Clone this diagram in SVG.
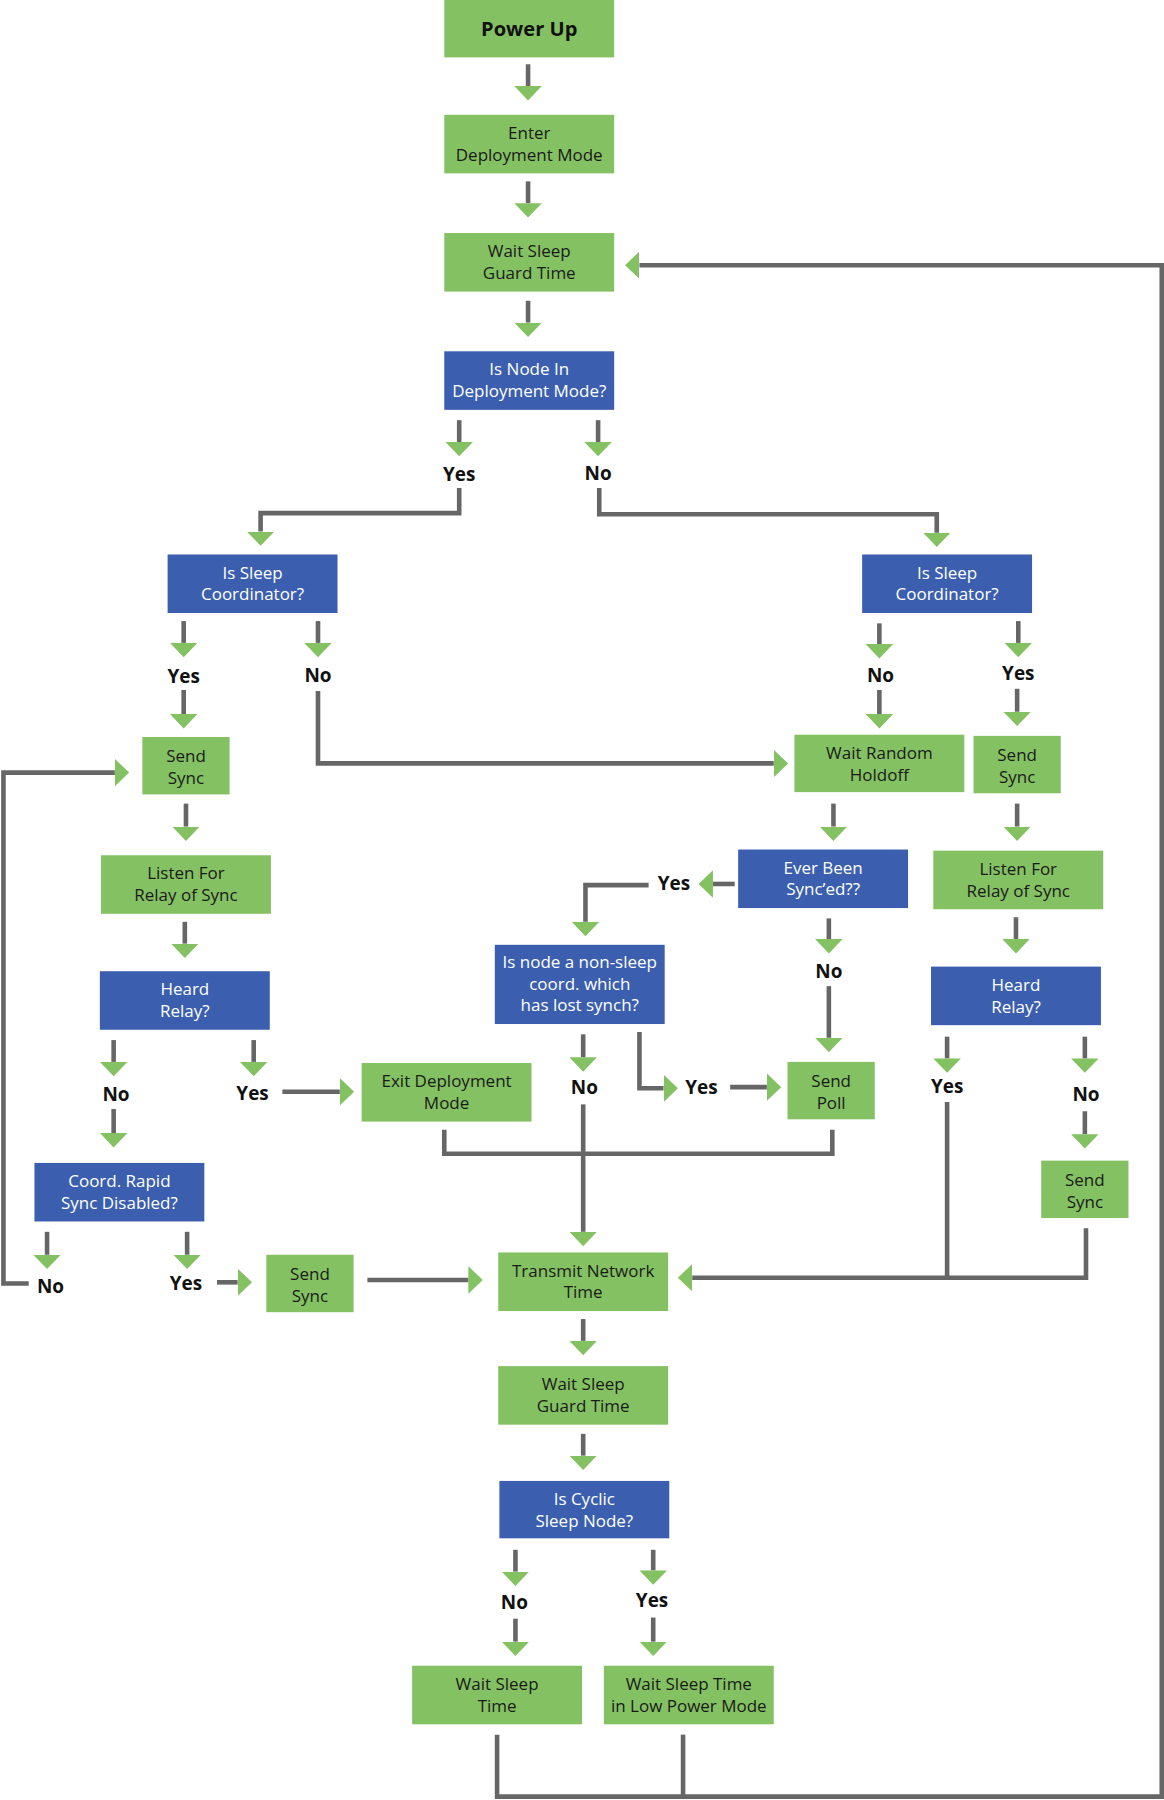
<svg xmlns="http://www.w3.org/2000/svg" width="1164" height="1800" viewBox="0 0 1164 1800">
<style>
.g{fill:#84c162}.b{fill:#3b5fae}
.t{font-family:"Open Sans","Liberation Sans",sans-serif;font-size:14.8px;text-anchor:middle;fill:#1a1a1a}
.w{fill:#ffffff}
.l{font-family:"Open Sans","Liberation Sans",sans-serif;font-size:16.5px;font-weight:bold;text-anchor:middle;fill:#111}
.c{fill:none;stroke:#666;stroke-width:4}
</style>
<defs>
<marker id="a" markerUnits="userSpaceOnUse" markerWidth="14" markerHeight="26" viewBox="0 -13 14 26" refX="0" refY="0" orient="auto">
<path d="M0,-12 L12.5,0 L0,12 z" fill="#84c162"/>
</marker>
</defs>
<rect width="1164" height="1800" fill="#fff"/>
<g transform="scale(1.148)">
<g id="connectors" class="c" marker-end="url(#a)">
<path d="M460,56V75"/><path d="M460,158V177"/><path d="M460,262V281"/>
<path d="M400,366V385"/><path d="M521,366V385"/>
<path d="M400,425V447H227V463"/><path d="M522,425V448H816V464"/>
<path d="M160,541V560"/><path d="M160,601V622"/><path d="M277,541V560"/>
<path d="M277,602V665H674"/>
<path d="M766,543V561"/><path d="M766,601V622"/><path d="M887,541V560"/><path d="M886,600V620"/>
<path d="M162,700V720"/><path d="M161,803V822"/>
<path d="M99,906V925"/><path d="M99,966V987"/><path d="M221,906V925"/><path d="M246,951H296"/>
<path d="M41,1073V1093"/><path d="M25,1118H3V673H100"/>
<path d="M163,1073V1093"/><path d="M189,1117H207"/><path d="M320,1115H408"/>
<path d="M726,700V720"/><path d="M640,770H621"/><path d="M565,771H510V803"/>
<path d="M722,800V818"/><path d="M722,859V904"/>
<path d="M508,901V921"/><path d="M508,962V1073"/>
<path d="M557,899V948H578"/><path d="M636,947H668"/>
<path d="M387,984V1005H725V984" marker-end="none"/>
<path d="M886,700V720"/><path d="M885,799V818"/>
<path d="M825,903V922"/><path d="M825,960V1113" marker-end="none"/>
<path d="M945,903V922"/><path d="M945,968V988"/>
<path d="M946,1070V1113H603"/>
<path d="M508,1149V1168"/><path d="M508,1249V1268"/>
<path d="M449,1350V1369"/><path d="M449,1410V1430"/><path d="M569,1350V1368"/><path d="M569,1409V1430"/>
<path d="M433,1511V1565H1012V231H557"/><path d="M595,1511V1565" marker-end="none"/>
</g>
<g id="labels" class="l">
<text x="400" y="419">Yes</text><text x="521" y="418">No</text>
<text x="160" y="595">Yes</text><text x="277" y="594">No</text>
<text x="767" y="594">No</text><text x="887" y="592">Yes</text>
<text x="101" y="959">No</text><text x="220" y="958">Yes</text>
<text x="44" y="1126">No</text><text x="162" y="1124">Yes</text>
<text x="587" y="775">Yes</text><text x="722" y="852">No</text>
<text x="509" y="953">No</text><text x="611" y="953">Yes</text>
<text x="825" y="952">Yes</text><text x="946" y="959">No</text>
<text x="448" y="1402">No</text><text x="568" y="1400">Yes</text>
</g>
<g id="n1"><rect class="g" x="387" y="0" width="148" height="50"/><text class="l" x="461" y="31" style="font-size:17.5px">Power Up</text></g>
<g id="n2"><rect class="g" x="387" y="100" width="148" height="51"/><text class="t" x="461" y="121">Enter</text><text class="t" x="461" y="140">Deployment Mode</text></g>
<g id="n3"><rect class="g" x="387" y="203" width="148" height="51"/><text class="t" x="461" y="224">Wait Sleep</text><text class="t" x="461" y="243">Guard Time</text></g>
<g id="n4"><rect class="b" x="387" y="306" width="148" height="51"/><text class="t w" x="461" y="327">Is Node In</text><text class="t w" x="461" y="346">Deployment Mode?</text></g>
<g id="n5"><rect class="b" x="146" y="483" width="148" height="51"/><text class="t w" x="220" y="504">Is Sleep</text><text class="t w" x="220" y="523">Coordinator?</text></g>
<g id="n6"><rect class="b" x="751" y="483" width="148" height="51"/><text class="t w" x="825" y="504">Is Sleep</text><text class="t w" x="825" y="523">Coordinator?</text></g>
<g id="n7"><rect class="g" x="124" y="642" width="76" height="50"/><text class="t" x="162" y="664">Send</text><text class="t" x="162" y="683">Sync</text></g>
<g id="n8"><rect class="g" x="88" y="745" width="148" height="51"/><text class="t" x="162" y="766">Listen For</text><text class="t" x="162" y="785">Relay of Sync</text></g>
<g id="n9"><rect class="b" x="87" y="846" width="148" height="51"/><text class="t w" x="161" y="867">Heard</text><text class="t w" x="161" y="886">Relay?</text></g>
<g id="n10"><rect class="b" x="30" y="1013" width="148" height="51"/><text class="t w" x="104" y="1034">Coord. Rapid</text><text class="t w" x="104" y="1053">Sync Disabled?</text></g>
<g id="n11"><rect class="g" x="232" y="1093" width="76" height="50"/><text class="t" x="270" y="1115">Send</text><text class="t" x="270" y="1134">Sync</text></g>
<g id="n12"><rect class="g" x="315" y="926" width="148" height="51"/><text class="t" x="389" y="947">Exit Deployment</text><text class="t" x="389" y="966">Mode</text></g>
<g id="n13"><rect class="g" x="692" y="640" width="148" height="50"/><text class="t" x="766" y="661">Wait Random</text><text class="t" x="766" y="680">Holdoff</text></g>
<g id="n14"><rect class="g" x="848" y="641" width="76" height="50"/><text class="t" x="886" y="663">Send</text><text class="t" x="886" y="682">Sync</text></g>
<g id="n15"><rect class="b" x="643" y="740" width="148" height="51"/><text class="t w" x="717" y="761">Ever Been</text><text class="t w" x="717" y="780">Sync’ed??</text></g>
<g id="n16"><rect class="g" x="813" y="741" width="148" height="51"/><text class="t" x="887" y="762">Listen For</text><text class="t" x="887" y="781">Relay of Sync</text></g>
<g id="n17"><rect class="b" x="431" y="823" width="148" height="69"/><text class="t w" x="505" y="843">Is node a non-sleep</text><text class="t w" x="505" y="862">coord. which</text><text class="t w" x="505" y="881">has lost synch?</text></g>
<g id="n18"><rect class="g" x="686" y="925" width="76" height="50"/><text class="t" x="724" y="947">Send</text><text class="t" x="724" y="966">Poll</text></g>
<g id="n19"><rect class="b" x="811" y="842" width="148" height="51"/><text class="t w" x="885" y="863">Heard</text><text class="t w" x="885" y="882">Relay?</text></g>
<g id="n20"><rect class="g" x="907" y="1011" width="76" height="50"/><text class="t" x="945" y="1033">Send</text><text class="t" x="945" y="1052">Sync</text></g>
<g id="n21"><rect class="g" x="434" y="1091" width="148" height="51"/><text class="t" x="508" y="1112">Transmit Network</text><text class="t" x="508" y="1131">Time</text></g>
<g id="n22"><rect class="g" x="434" y="1190" width="148" height="51"/><text class="t" x="508" y="1211">Wait Sleep</text><text class="t" x="508" y="1230">Guard Time</text></g>
<g id="n23"><rect class="b" x="435" y="1290" width="148" height="50"/><text class="t w" x="509" y="1311">Is Cyclic</text><text class="t w" x="509" y="1330">Sleep Node?</text></g>
<g id="n24"><rect class="g" x="359" y="1451" width="148" height="51"/><text class="t" x="433" y="1472">Wait Sleep</text><text class="t" x="433" y="1491">Time</text></g>
<g id="n25"><rect class="g" x="526" y="1451" width="148" height="51"/><text class="t" x="600" y="1472">Wait Sleep Time</text><text class="t" x="600" y="1491">in Low Power Mode</text></g>
</g>
</svg>
